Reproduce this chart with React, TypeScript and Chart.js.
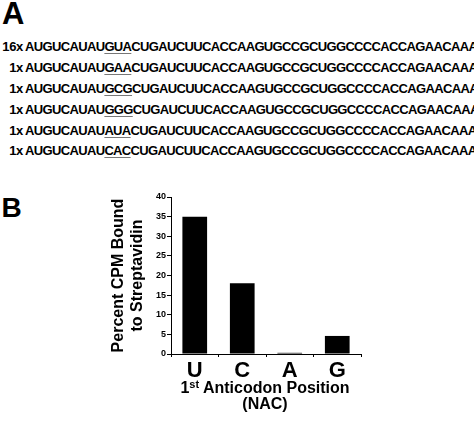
import React, { useEffect, useRef } from "react";
import { Chart, registerables } from "chart.js";

Chart.register(...registerables);

// ---- Data ----
const categories = ["U", "C", "A", "G"];
const percentBound = [35, 18, 0.3, 4.6];
const yMin = 0;
const yMax = 40;
const yStep = 5;
const yTitle = ["Percent CPM Bound", "to Streptavidin"];
const xTitleNum = "1";
const xTitleSup = "st";
const xTitleRest = " Anticodon Position";
const xTitleLine2 = "(NAC)";

const seqPrefixes = ["16x", "1x", "1x", "1x", "1x", "1x"];
const seqHead = "AUGUCAUAU";
const seqCodons = ["GUA", "GAA", "GCG", "GGG", "AUA", "CAC"];
const seqTail = "CUGAUCUUCACCAAGUGCCGCUGGCCCCACCAGAACAAA";

const FONT = "'Liberation Sans', Arial, Helvetica, sans-serif";

// place text by baseline (Liberation Sans metrics)
function topFor(baseline: number, fs: number) {
  return baseline - 0.8465 * fs;
}

function BarChart() {
  const ref = useRef<HTMLCanvasElement | null>(null);
  useEffect(() => {
    if (!ref.current) return;
    const chart = new Chart(ref.current, {
      type: "bar",
      data: {
        labels: categories,
        datasets: [
          {
            data: percentBound,
            backgroundColor: "#000",
            borderWidth: 0,
            barPercentage: 0.52,
            categoryPercentage: 1,
          },
        ],
      },
      options: {
        animation: false,
        responsive: true,
        maintainAspectRatio: false,
        layout: { padding: { left: 0, top: 17, right: 113, bottom: 0 } },
        plugins: { legend: { display: false }, tooltip: { enabled: false } },
        scales: {
          x: {
            grid: {
              display: true,
              drawOnChartArea: false,
              offset: true,
              tickLength: 3,
              color: "#000",
              lineWidth: 1,
            },
            border: { display: true, color: "#000", width: 1 },
            ticks: {
              font: { family: FONT, size: 22, weight: "bold" },
              color: "#000",
              padding: 1,
            },
            afterFit: (s: any) => {
              s.height = 67;
            },
          },
          y: {
            min: yMin,
            max: yMax,
            grid: {
              display: true,
              drawOnChartArea: false,
              tickLength: 4,
              color: "#000",
              lineWidth: 1,
            },
            border: { display: true, color: "#000", width: 1 },
            ticks: {
              stepSize: yStep,
              font: { family: FONT, size: 9, weight: "bold" },
              color: "#000",
              padding: 1,
            },
            title: {
              display: true,
              text: yTitle,
              color: "#000",
              font: { family: FONT, size: 16, weight: "bold", lineHeight: 1.19 },
              padding: { top: 109.5, bottom: 0 },
            },
            afterFit: (s: any) => {
              s.width = 171;
            },
          },
        },
      },
    });
    return () => chart.destroy();
  }, []);
  return (
    <div style={{ position: "absolute", left: 0, top: 180, width: 474, height: 241 }}>
      <canvas ref={ref} />
    </div>
  );
}

export default function App() {
  const seqFs = 13;
  return (
    <div
      style={{
        position: "absolute",
        left: 0,
        top: 0,
        width: 474,
        height: 421,
        overflow: "hidden",
        background: "#fff",
        fontFamily: FONT,
        fontWeight: "bold",
        color: "#000",
      }}
    >
      <div
        style={{
          position: "absolute",
          left: 2,
          top: topFor(24.3, 31),
          fontSize: 31,
          lineHeight: "31px",
        }}
      >
        A
      </div>
      {seqPrefixes.map((p, i) => {
        const base = 51.5 + 20.8 * i;
        return (
          <React.Fragment key={i}>
            <div
              style={{
                position: "absolute",
                left: 0,
                width: 23,
                textAlign: "right",
                top: topFor(base, seqFs),
                fontSize: seqFs,
                lineHeight: `${seqFs}px`,
                letterSpacing: "-0.3px",
                whiteSpace: "nowrap",
              }}
            >
              {p}
            </div>
            <div
              style={{
                position: "absolute",
                left: 25,
                top: topFor(base, seqFs),
                fontSize: seqFs,
                lineHeight: `${seqFs}px`,
                letterSpacing: "-0.65px",
                whiteSpace: "nowrap",
              }}
            >
              {seqHead}
              <span
                style={{
                  textDecoration: "underline",
                  textDecorationColor: "#777",
                  textDecorationThickness: "1px",
                  textUnderlineOffset: "2px",
                }}
              >
                {seqCodons[i]}
              </span>
              {seqTail}
            </div>
          </React.Fragment>
        );
      })}
      <div
        style={{
          position: "absolute",
          left: 1.5,
          top: topFor(217.3, 28),
          fontSize: 28,
          lineHeight: "28px",
        }}
      >
        B
      </div>
      <BarChart />
      <div
        style={{
          position: "absolute",
          left: 165,
          width: 200,
          textAlign: "center",
          top: topFor(393.5, 16),
          fontSize: 16,
          lineHeight: "16px",
          whiteSpace: "nowrap",
        }}
      >
        {xTitleNum}
        <span style={{ fontSize: 11, position: "relative", top: -5 }}>{xTitleSup}</span>
        {xTitleRest}
      </div>
      <div
        style={{
          position: "absolute",
          left: 165,
          width: 200,
          textAlign: "center",
          top: topFor(409.5, 16),
          fontSize: 16,
          lineHeight: "16px",
          whiteSpace: "nowrap",
        }}
      >
        {xTitleLine2}
      </div>
    </div>
  );
}
